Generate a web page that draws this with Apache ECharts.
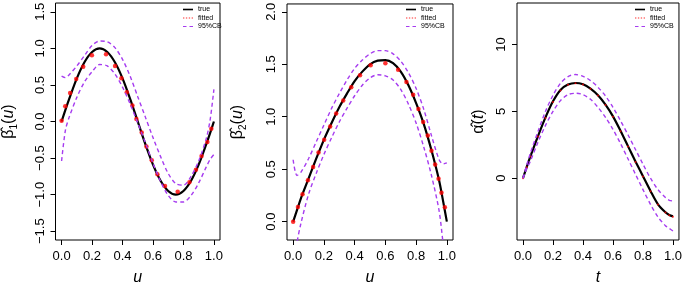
<!DOCTYPE html>
<html>
<head>
<meta charset="utf-8">
<script src="https://cdn.jsdelivr.net/npm/echarts@6/dist/echarts.min.js"></script>
<style>
  html, body { margin: 0; padding: 0; background: #fff; }
  #chart { width: 685px; height: 291px; }
</style>
</head>
<body>
<div id="chart"></div>
<script>
// shared grid of u / t values
const uGrid = [0, 0.025, 0.05, 0.1, 0.15, 0.2, 0.25, 0.3, 0.35, 0.4, 0.45, 0.5,
  0.55, 0.6, 0.65, 0.7, 0.75, 0.8, 0.85, 0.9, 0.95, 0.975, 1];

// panel 1: beta1(u)
const b1True = [0, 0.16, 0.31, 0.59, 0.81, 0.95, 1.0, 0.95, 0.81, 0.59, 0.31, 0, -0.31,
  -0.59, -0.81, -0.95, -1.0, -0.95, -0.81, -0.59, -0.31, -0.16, 0];
const b1Upper = [0.62, 0.60, 0.64, 0.76, 0.90, 1.04, 1.10, 1.09, 1.01, 0.85, 0.62, 0.34, 0.06,
  -0.22, -0.48, -0.71, -0.85, -0.87, -0.75, -0.54, -0.23, 0.02, 0.44];
const b1Lower = [-0.54, -0.12, 0.06, 0.33, 0.54, 0.68, 0.78, 0.76, 0.65, 0.47, 0.24, -0.02, -0.29,
  -0.57, -0.82, -1.01, -1.10, -1.10, -1.01, -0.84, -0.62, -0.52, -0.45];
const b1FitU = [0, 0.024, 0.056, 0.096, 0.142, 0.199, 0.292, 0.351, 0.393, 0.428, 0.465, 0.491,
  0.526, 0.557, 0.592, 0.629, 0.679, 0.762, 0.839, 0.882, 0.919, 0.957, 0.983];
const b1FitV = [0.01, 0.21, 0.39, 0.58, 0.75, 0.906, 0.92, 0.76, 0.59, 0.40, 0.22, 0.035,
  -0.15, -0.34, -0.53, -0.72, -0.88, -0.96, -0.83, -0.66, -0.47, -0.28, -0.10];

// panel 2: beta2(u)
const b2True = [0, 0.11, 0.22, 0.41, 0.60, 0.78, 0.94, 1.09, 1.22, 1.34, 1.43, 1.50, 1.535,
  1.54, 1.51, 1.43, 1.30, 1.13, 0.93, 0.68, 0.39, 0.20, 0];
const b2Upper = [0.59, 0.44, 0.47, 0.60, 0.76, 0.92, 1.08, 1.22, 1.35, 1.46, 1.54, 1.60, 1.63,
  1.63, 1.60, 1.53, 1.42, 1.27, 1.07, 0.82, 0.59, 0.55, 0.56];
const b2Lower = [-0.45, -0.20, -0.02, 0.26, 0.46, 0.64, 0.80, 0.95, 1.08, 1.20, 1.30, 1.37, 1.40,
  1.39, 1.35, 1.26, 1.12, 0.94, 0.71, 0.44, 0.10, -0.20, -0.50];
const b2FitU = [0, 0.031, 0.061, 0.096, 0.13, 0.165, 0.202, 0.241, 0.28, 0.326, 0.378, 0.435,
  0.504, 0.60, 0.683, 0.737, 0.781, 0.815, 0.846, 0.876, 0.90, 0.924, 0.946, 0.965, 0.987];
const b2FitV = [0, 0.139, 0.26, 0.395, 0.52, 0.66, 0.78, 0.907, 1.03, 1.155, 1.28, 1.395,
  1.49, 1.51, 1.447, 1.33, 1.21, 1.074, 0.95, 0.82, 0.676, 0.544, 0.41, 0.275, 0.137];

// panel 3: alpha(t)
const aTrue = [0, 0.85, 1.65, 3.15, 4.55, 5.75, 6.6, 7.0, 7.12, 7.02, 6.7, 6.2, 5.5, 4.62,
  3.55, 2.4, 1.25, 0.15, -0.95, -1.95, -2.55, -2.75, -2.85];
const aUpper = [0, 1.0, 1.9, 3.5, 5.0, 6.2, 7.1, 7.6, 7.75, 7.62, 7.3, 6.8, 6.15, 5.3, 4.3,
  3.25, 2.15, 1.05, 0.0, -0.85, -1.45, -1.65, -1.7];
const aLower = [0, 0.7, 1.3, 2.7, 3.95, 5.0, 5.8, 6.25, 6.35, 6.25, 5.9, 5.3, 4.55, 3.65, 2.6,
  1.45, 0.3, -0.85, -1.95, -2.9, -3.55, -3.75, -3.95];
const aFit = [0, 0.82, 1.62, 3.12, 4.5, 5.7, 6.55, 6.98, 7.1, 7.0, 6.68, 6.18, 5.48, 4.6,
  3.52, 2.38, 1.22, 0.12, -0.98, -1.97, -2.57, -2.77, -2.88];

// tick positions
const xTicks = [0, 0.2, 0.4, 0.6, 0.8, 1.0];
const b1Ticks = [-1.5, -1.0, -0.5, 0, 0.5, 1.0, 1.5];
const b2Ticks = [0, 0.5, 1.0, 1.5, 2.0];
const aTicks = [0, 5, 10];

const F = 'Liberation Sans, Arial, sans-serif';
const PURPLE = '#a63cf0';

const pairs = (xs, ys) => xs.map((x, i) => [x, ys[i]]);
const fmt1 = (v) => (v < 0 ? '\u2212' : '') + Math.abs(v).toFixed(1);

const panels = [
  { left: 54, width: 166, ymin: -1.62, ymax: 1.62, yTicks: b1Ticks, yFmt: fmt1,
    yName: '{b|\u03b2\u0302}{s|1}{b|(}{i|u}{b|)}', nameGap: 36, xName: 'u',
    tru: b1True, up: b1Upper, lo: b1Lower, fit: pairs(b1FitU, b1FitV), dot: 4.5, legLeft: 183 },
  { left: 287, width: 166, ymin: -0.175, ymax: 2.075, yTicks: b2Ticks, yFmt: fmt1,
    yName: '{b|\u03b2\u0302}{s|2}{b|(}{i|u}{b|)}', nameGap: 39, xName: 'u',
    tru: b2True, up: b2Upper, lo: b2Lower, fit: pairs(b2FitU, b2FitV), dot: 4.5, legLeft: 406 },
  { left: 517, width: 166, ymin: -4.62, ymax: 13.1, yTicks: aTicks, yFmt: (v) => String(v),
    yName: '{b|\u03b1\u0302}{b|(}{i|t}{b|)}', nameGap: 28, xName: 't',
    tru: aTrue, up: aUpper, lo: aLower, fit: pairs(uGrid, aFit), dot: 2, legLeft: 635 }
];

const rich = {
  b: { fontSize: 16, fontFamily: F, color: '#000', lineHeight: 21 },
  i: { fontSize: 16, fontFamily: F, fontStyle: 'italic', color: '#000', lineHeight: 21 },
  s: { fontSize: 10, fontFamily: F, color: '#000', lineHeight: 10, verticalAlign: 'bottom' }
};

// legend keys drawn like R's line types
const solidIcon = 'path://M0 0h10v1.6h-10z';
const dotIcon = 'path://M0 0h1.4v1.4h-1.4zM3 0h1.4v1.4h-1.4zM6 0h1.4v1.4h-1.4zM9 0h1.4v1.4h-1.4z';
const dashIcon = 'path://M0 0h3.5v1.2h-3.5zM6.5 0h3.5v1.2h-3.5z';

const option = {
  animation: false,
  backgroundColor: '#fff',
  grid: panels.map((p) => ({
    left: p.left, top: 3, width: p.width, height: 243,
    show: true, borderColor: '#000', borderWidth: 1, backgroundColor: 'transparent'
  })),
  xAxis: panels.map((p, i) => ({
    type: 'value', gridIndex: i, min: -0.04, max: 1.04, position: 'bottom',
    name: p.xName, nameLocation: 'middle', nameGap: 30,
    nameTextStyle: { fontSize: 16, fontStyle: 'italic', fontFamily: F, color: '#000' },
    axisLine: { show: false, onZero: false },
    splitLine: { show: false },
    axisTick: { show: true, inside: false, length: 5, customValues: xTicks,
      lineStyle: { color: '#000', width: 1 } },
    axisLabel: { customValues: xTicks, formatter: (v) => v.toFixed(1), margin: 10,
      fontSize: 13, fontFamily: F, color: '#000' }
  })),
  yAxis: panels.map((p, i) => ({
    type: 'value', gridIndex: i, min: p.ymin, max: p.ymax, position: 'left',
    name: p.yName, nameLocation: 'middle', nameGap: p.nameGap, nameRotate: 90,
    nameTextStyle: { rich: rich },
    axisLine: { show: false, onZero: false },
    splitLine: { show: false },
    axisTick: { show: true, inside: false, length: 5, customValues: p.yTicks,
      lineStyle: { color: '#000', width: 1 } },
    axisLabel: { customValues: p.yTicks, formatter: p.yFmt, rotate: 90, margin: 9,
      fontSize: 13, fontFamily: F, color: '#000' }
  })),
  legend: panels.map((p) => ({
    orient: 'vertical', left: p.legLeft, top: 6, padding: 0,
    itemWidth: 10, itemHeight: 7, itemGap: 1.5, selectedMode: false,
    textStyle: { fontSize: 7, fontFamily: F, color: '#000' },
    data: [
      { name: 'true', icon: solidIcon, itemStyle: { color: '#000' } },
      { name: 'fitted', icon: dotIcon, itemStyle: { color: '#ff5050' } },
      { name: '95%CB', icon: dashIcon, itemStyle: { color: PURPLE } }
    ]
  })),
  series: []
};

panels.forEach((p, i) => {
  option.series.push({
    name: 'true', type: 'line', xAxisIndex: i, yAxisIndex: i,
    data: pairs(uGrid, p.tru), showSymbol: false, symbol: 'none', smooth: 0.3,
    lineStyle: { color: '#000', width: 2.2 }, itemStyle: { color: '#000' }, z: 3
  });
  option.series.push({
    name: 'fitted', type: 'scatter', xAxisIndex: i, yAxisIndex: i,
    data: p.fit, symbol: 'circle', symbolSize: p.dot,
    itemStyle: { color: '#ff0000' }, z: 4
  });
  [p.up, p.lo].forEach((band) => {
    option.series.push({
      name: '95%CB', type: 'line', xAxisIndex: i, yAxisIndex: i,
      data: pairs(uGrid, band), showSymbol: false, symbol: 'none', smooth: 0.3,
      lineStyle: { color: PURPLE, width: 1.4, type: [4, 3] }, itemStyle: { color: PURPLE }, z: 5
    });
  });
});

const chart = echarts.init(document.getElementById('chart'), null, { renderer: 'canvas' });
chart.setOption(option);
</script>
</body>
</html>
